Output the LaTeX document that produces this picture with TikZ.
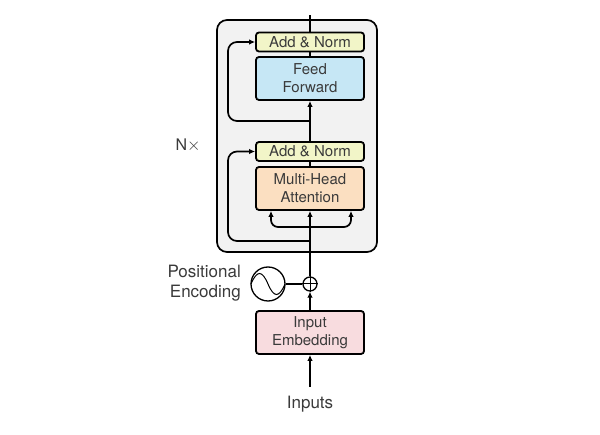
\documentclass[tikz,border=0pt]{standalone}
\usepackage{fontspec}
\setmainfont{TeX Gyre Heros}
\usepackage{xcolor}
\usetikzlibrary{arrows.meta}
\definecolor{norm-yellow}{HTML}{F2F5C8}
\definecolor{ff-blue}{HTML}{C6E7F5}
\definecolor{mha-orange}{HTML}{FBDFC1}
\definecolor{emb-pink}{HTML}{F8DCDF}
\definecolor{layer-gray}{HTML}{F2F2F2}
\definecolor{label-gray}{HTML}{3A3A3A}
\tikzset{
    layer-box/.style = {draw=black, fill=layer-gray, line width=1.7pt, rectangle, rounded corners=10pt, minimum width=160pt, minimum height=232pt},
    sub-layer/.style = {draw=black, line width=1.8pt, rectangle, rounded corners=3pt, minimum width=108pt, inner sep=0pt, align=center, text=label-gray, font=\fontsize{15}{18}\selectfont},
    norm-box/.style = {sub-layer, fill=norm-yellow, minimum height=19pt},
    big-box/.style = {sub-layer, minimum height=43pt},
    plain-label/.style = {text=label-gray, font=\fontsize{17}{20}\selectfont, inner sep=0pt},
    flow/.style = {line width=1.7pt, -{Latex[length=6pt,width=5.5pt]}},
    wire/.style = {line width=1.7pt},
}
\begin{document}
\begin{tikzpicture}[x=1pt, y=-1pt]
\useasboundingbox (0,0) rectangle (600,435);
\node [layer-box] (layer) at (297,136) {};
\node [norm-box] (addnorm-top) at (310,42) {Add \& Norm};
\node [big-box, fill=ff-blue] (ff) at (310,78.5) {Feed\\Forward};
\node [norm-box] (addnorm) at (310,151.5) {Add \& Norm};
\node [big-box, fill=mha-orange] (mha) at (310,188.5) {Multi-Head\\Attention};
\node [big-box, fill=emb-pink] (emb) at (310,332.5) {Input\\Embedding};
\node [draw=black, line width=1.3pt, circle, minimum size=14pt, inner sep=0pt] (plus) at (310,284) {};
\draw [line width=1pt] (plus.north) -- (plus.south) (plus.west) -- (plus.east);
\node [draw=black, line width=1.3pt, circle, minimum size=34pt, inner sep=0pt] (pe) at (268,284) {};
\draw [line width=1pt] (251,284) .. controls (257,270) and (262,270) .. (268,284) .. controls (274,298) and (279,298) .. (285,284);
\node [plain-label] (inputs) at (310,404) {Inputs};
\node [plain-label, align=right, anchor=east] (pe-label) at (241,283) {Positional\\Encoding};
\node [plain-label, font=\fontsize{16}{18}\selectfont] (nx) at (188,145) {N$\times$};
\coordinate (out) at (310,15);
\coordinate (split) at (310,227);
\coordinate (res-1) at (310,241);
\coordinate (res-2) at (310,121);
\draw [flow] ([yshift=9pt]inputs.north) -- (emb.south);
\draw [flow] (emb.north) -- (plus.south);
\draw [wire] (pe.east) -- (plus.west);
\draw [flow] (plus.north) -- (mha.south);
\draw [flow, rounded corners=7pt] (split) -| ([xshift=-39pt]mha.south);
\draw [flow, rounded corners=7pt] (split) -| ([xshift=41pt]mha.south);
\draw [flow, rounded corners=9pt] (res-1) -- ++(-82,0) |- (addnorm.west);
\draw [wire] (mha.north) -- (addnorm.south);
\draw [flow] (addnorm.north) -- (ff.south);
\draw [flow, rounded corners=9pt] (res-2) -- ++(-82,0) |- (addnorm-top.west);
\draw [wire] (ff.north) -- (addnorm-top.south);
\draw [wire] (addnorm-top.north) -- (out);
\end{tikzpicture}
\end{document}
